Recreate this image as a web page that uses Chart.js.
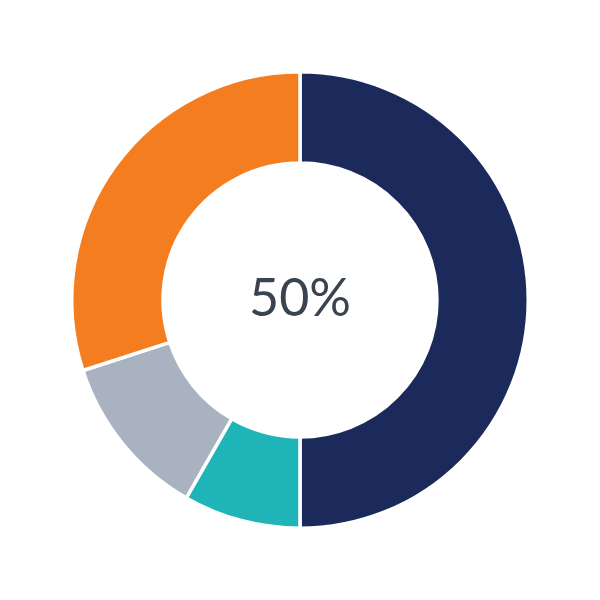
<!DOCTYPE html>
<html>
<head>
<meta charset="utf-8">
<script src="https://cdn.jsdelivr.net/npm/chart.js@4"></script>
<style>
    html, body { margin: 0; padding: 0; background: #fff; }
    #wrap { width: 600px; height: 600px; }
</style>
</head>
<body>
<div id="wrap"><canvas id="donutChart"></canvas></div>
<script>
const labels = ['Navy', 'Teal', 'Gray', 'Orange'];
const values = [50, 8.3, 11.7, 30];
const colors = ['#1b2a5a', '#1eb4b8', '#a8b2c1', '#f47d20'];
const centerLabel = '50%';

// draws the big percentage in the hole
const centerText = {
    id: 'centerText',
    afterDraw(chart) {
        const arc = chart.getDatasetMeta(0).data[0];
        const c = chart.ctx;
        c.save();
        c.font = '400 52px Lato, "Open Sans", sans-serif';
        c.fillStyle = '#3a4350';
        c.textAlign = 'center';
        c.textBaseline = 'middle';
        c.fillText(centerLabel, arc.x, arc.y - 1);
        c.restore();
    }
};

const ctx = document.getElementById('donutChart').getContext('2d');

new Chart(ctx, {
    type: 'doughnut',
    data: {
        labels: labels,
        datasets: [{
            data: values,
            backgroundColor: colors,
            borderColor: '#ffffff',
            borderWidth: 3.5
        }]
    },
    options: {
        responsive: true,
        maintainAspectRatio: false,
        animation: false,
        cutout: '60%',
        layout: { padding: 70 },
        plugins: {
            legend: { display: false },
            tooltip: { enabled: false }
        }
    },
    plugins: [centerText]
});
</script>
</body>
</html>
